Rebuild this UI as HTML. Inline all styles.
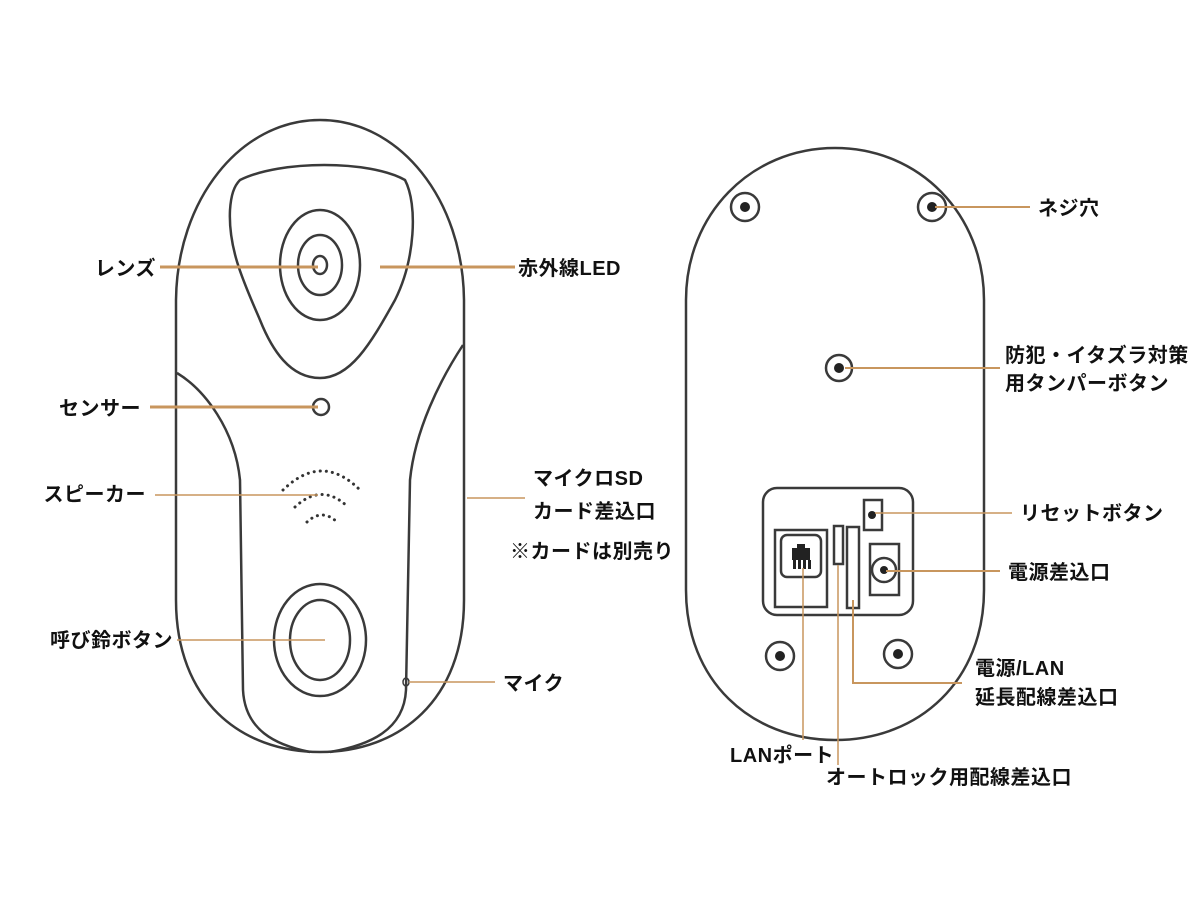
<!DOCTYPE html>
<html><head><meta charset="utf-8"><style>
html,body{margin:0;padding:0;background:#fff;}
svg{display:block;}
text{font-family:"Liberation Sans","Noto Sans CJK JP",sans-serif;font-size:20px;font-weight:bold;fill:#111;letter-spacing:0.5px;}
</style></head><body>
<svg width="1200" height="917" viewBox="0 0 1200 917" xmlns="http://www.w3.org/2000/svg">
<g fill="none" stroke="#3a3a3a" stroke-width="2.5">
<path d="M320,120 C240,120 177,200 176,300 L176,600 C176,700 240,752 320,752 C400,752 464,700 464,600 L464,300 C463,200 400,120 320,120 Z"/>
<path d="M240,180 C280,160 370,160 405,180 C418,205 415,260 395,300 C370,345 350,378 320,378 C290,378 272,350 260,320 C245,285 228,250 230,210 C231,195 234,186 240,180 Z"/>
<ellipse cx="320" cy="265" rx="40" ry="55"/>
<ellipse cx="320" cy="265" rx="22" ry="30"/>
<ellipse cx="320" cy="265" rx="7" ry="9"/>
<circle cx="321" cy="407" r="8"/>
<path d="M177,373 C205,390 235,430 240,480 L243,690 C245,730 275,745 310,752"/>
<path d="M463,345 C440,380 415,430 410,480 L406,690 C404,730 370,745 330,752"/>
<ellipse cx="320" cy="640" rx="46" ry="56"/>
<ellipse cx="320" cy="640" rx="30" ry="40"/>
<ellipse cx="406" cy="682" rx="3" ry="4" stroke-width="1.5"/>
</g>
<g fill="none" stroke="#333" stroke-width="3" stroke-linecap="round" stroke-dasharray="0.1 6">
<path d="M283,490 Q322,452 360,490"/>
<path d="M295,507 Q322,482 348,507"/>
<path d="M307,522 Q322,508 337,522"/>
</g>
<g fill="none" stroke="#3a3a3a" stroke-width="2.5">
<path d="M835,148 C750,148 686,215 686,300 L686,590 C686,680 750,740 835,740 C920,740 984,680 984,590 L984,300 C984,215 920,148 835,148 Z"/>
<circle cx="745" cy="207" r="14"/><circle cx="932" cy="207" r="14"/>
<circle cx="780" cy="656" r="14"/><circle cx="898" cy="654" r="14"/>
<circle cx="839" cy="368" r="13"/>
<rect x="763" y="488" width="150" height="127" rx="14"/>
<rect x="775" y="530" width="52" height="77"/>
<rect x="781" y="535" width="40" height="42" rx="6"/>
<rect x="834" y="526" width="9" height="38"/>
<rect x="847" y="527" width="12" height="81"/>
<rect x="864" y="500" width="18" height="30"/>
<rect x="870" y="544" width="29" height="51"/>
<circle cx="884" cy="570" r="12"/>
</g>
<g fill="#222">
<circle cx="745" cy="207" r="5"/><circle cx="932" cy="207" r="5"/>
<circle cx="780" cy="656" r="5"/><circle cx="898" cy="654" r="5"/>
<circle cx="839" cy="368" r="5"/>
<circle cx="872" cy="515" r="4"/><circle cx="884" cy="570" r="4"/>
<rect x="792" y="548" width="18" height="12"/><rect x="797" y="544" width="8" height="5"/>
<rect x="793" y="560" width="3" height="9"/><rect x="798" y="560" width="3" height="9"/><rect x="803" y="560" width="3" height="9"/><rect x="808" y="560" width="3" height="9"/>
</g>
<g stroke="#c8965e" fill="none">
<path d="M160,267 H318" stroke-width="3"/>
<path d="M380,267 H515" stroke-width="3"/>
<path d="M150,407 H318" stroke-width="3"/>
<path d="M155,495 H318" stroke-width="1.5"/>
<path d="M467,498 H525" stroke-width="1.5"/>
<path d="M177,640 H325" stroke-width="1.5"/>
<path d="M409,682 H495" stroke-width="1.5"/>
<path d="M935,207 H1030" stroke-width="2"/>
<path d="M845,368 H1000" stroke-width="2"/>
<path d="M875,513 H1012" stroke-width="1.5"/>
<path d="M886,571 H1000" stroke-width="2"/>
<path d="M853,600 V683 H962" stroke-width="2"/>
<path d="M803,568 V740" stroke-width="1.5"/>
<path d="M838,565 V765" stroke-width="1.5"/>
</g>
<g text-anchor="end">
<text x="156" y="275">レンズ</text>
<text x="141" y="415">センサー</text>
<text x="146" y="501">スピーカー</text>
<text x="173" y="647">呼び鈴ボタン</text>
</g>
<text x="518" y="275">赤外線LED</text>
<text x="533" y="485">マイクロSD</text>
<text x="533" y="518">カード差込口</text>
<text x="510" y="558">※カードは別売り</text>
<text x="503" y="690">マイク</text>
<text x="1038" y="215">ネジ穴</text>
<text x="1005" y="362">防犯・イタズラ対策</text>
<text x="1005" y="390">用タンパーボタン</text>
<text x="1020" y="520">リセットボタン</text>
<text x="1008" y="579">電源差込口</text>
<text x="975" y="675">電源/LAN</text>
<text x="975" y="704">延長配線差込口</text>
<text x="730" y="762">LANポート</text>
<text x="826" y="784">オートロック用配線差込口</text>
</svg>
</body></html>
